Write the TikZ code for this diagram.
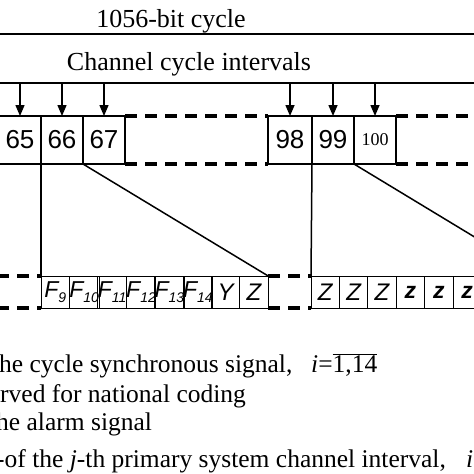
\documentclass[tikz,border=0pt]{standalone}
\usepackage{fontspec}
\setmainfont{Liberation Serif}
\newfontfamily\arialf{Liberation Sans}
\usetikzlibrary{arrows.meta}
\newcommand\Fsub[1]{{\fontsize{23}{23}\selectfont F}\raisebox{-5pt}{\fontsize{14}{14}\selectfont #1}}
\begin{document}
\begin{tikzpicture}[x=1pt,y=-1pt,
  ubox/.style={draw,line width=1.4pt,minimum height=48pt,inner sep=0pt,outer sep=0pt,anchor=north west,font=\arialf\fontsize{26}{26}\selectfont},
  lbox/.style={draw,line width=0.9pt,minimum width=28.4pt,minimum height=32pt,inner sep=0pt,outer sep=0pt,anchor=north west,font=\arialf\itshape\fontsize{24}{24}\selectfont},
  lz/.style={lbox,font=\arialf\bfseries\itshape\fontsize{23}{23}\selectfont},
  dsh/.style={line width=3.2pt,dash pattern=on 12pt off 8pt},
  conn/.style={line width=1.5pt},
  arr/.style={line width=1.5pt,-{Triangle[length=11pt,width=9pt]}},
  rulel/.style={line width=1.5pt},
  ttl/.style={font=\fontsize{26}{26}\selectfont,anchor=base,inner sep=0pt},
  lgd/.style={font=\fontsize{25.5}{25.5}\selectfont,anchor=base west,inner sep=0pt}
]
\useasboundingbox (0,0) rectangle (474,474);
\clip (0,0) rectangle (474,474);
\fill[white] (0,0) rectangle (474,474);

% titles and rules
\node[ttl] (t1) at (171,27) {1056-bit cycle};
\coordinate (r1a) at (-5,34); \coordinate (r1b) at (480,34);
\draw[rulel] (r1a) -- (r1b);
\node[ttl] (t2) at (189,70) {Channel cycle intervals};
\coordinate (r2a) at (-5,83); \coordinate (r2b) at (480,83);
\draw[rulel] (r2a) -- (r2b);

% upper boxes
\node[ubox,minimum width=42pt] (u65) at (-1,116) {65};
\node[ubox,minimum width=42pt] (u66) at (41,116) {66};
\node[ubox,minimum width=42pt] (u67) at (83,116) {67};
\node[ubox,minimum width=44pt] (u98) at (268,116) {98};
\node[ubox,minimum width=42pt] (u99) at (312,116) {99};
\node[ubox,minimum width=42pt,font=\fontsize{18}{18}\selectfont] (u100) at (354,116) {100};

% arrows
\draw[arr] (u65.north |- r2a) -- (u65.north);
\draw[arr] (u66.north |- r2a) -- (u66.north);
\draw[arr] (u67.north |- r2a) -- (u67.north);
\draw[arr] (u98.north |- r2a) -- (u98.north);
\draw[arr] (u99.north |- r2a) -- (u99.north);
\draw[arr] (u100.north |- r2a) -- (u100.north);

% upper dashed
\coordinate (ur1) at (480,116); \coordinate (ur2) at (480,164);
\draw[dsh] (u67.north east) -- (u98.north west);
\draw[dsh] (u67.south east) -- (u98.south west);
\draw[dsh] (u100.north east) -- (ur1);
\draw[dsh] (u100.south east) -- (ur2);

% lower boxes
\node[lbox] (f9) at (41,276) {\Fsub{9}};
\node[lbox] (f10) at (69.4,276) {\Fsub{10}};
\node[lbox] (f11) at (97.8,276) {\Fsub{11}};
\node[lbox] (f12) at (126.2,276) {\Fsub{12}};
\node[lbox] (f13) at (154.6,276) {\Fsub{13}};
\node[lbox] (f14) at (183,276) {\Fsub{14}};
\node[lbox] (y1) at (211.4,276) {Y};
\node[lbox] (z0) at (239.8,276) {Z};
\node[lbox] (z1) at (311,276) {Z};
\node[lbox] (z2) at (339.4,276) {Z};
\node[lbox] (z3) at (367.8,276) {Z};
\node[lz] (z4) at (396.2,276) {z};
\node[lz] (z5) at (424.6,276) {z};
\node[lz] (z6) at (453,276) {z};

% lower dashed
\coordinate (ll1) at (-3,276); \coordinate (ll2) at (-3,308);
\draw[dsh] (ll1) -- (f9.north west);
\draw[dsh] (ll2) -- (f9.south west);
\draw[dsh] (z0.north east) -- (z1.north west);
\draw[dsh] (z0.south east) -- (z1.south west);

% connectors
\draw[conn] (u65.south east) -- (f9.north west);
\draw[conn] (u66.south east) -- (z0.north east);
\draw[conn] (u98.south east) -- (z1.north west);
\coordinate (far) at (539,276);
\draw[conn] (u99.south east) -- (far);

% legend
\node[lgd] (g1) at (-1,372) {he cycle synchronous signal,};
\node[lgd] (g1b) at (311,372) {\textit{i}=$\overline{\hbox{1,14}}$};
\node[lgd] (g2) at (0,402) {rved for national coding};
\node[lgd] (g3) at (-4,430) {he alarm signal};
\node[lgd] (g4) at (-4,467) {-of the \textit{j}-th primary system channel interval,};
\node[lgd] (g4b) at (466,467) {\textit{i}=};
\end{tikzpicture}
\end{document}
